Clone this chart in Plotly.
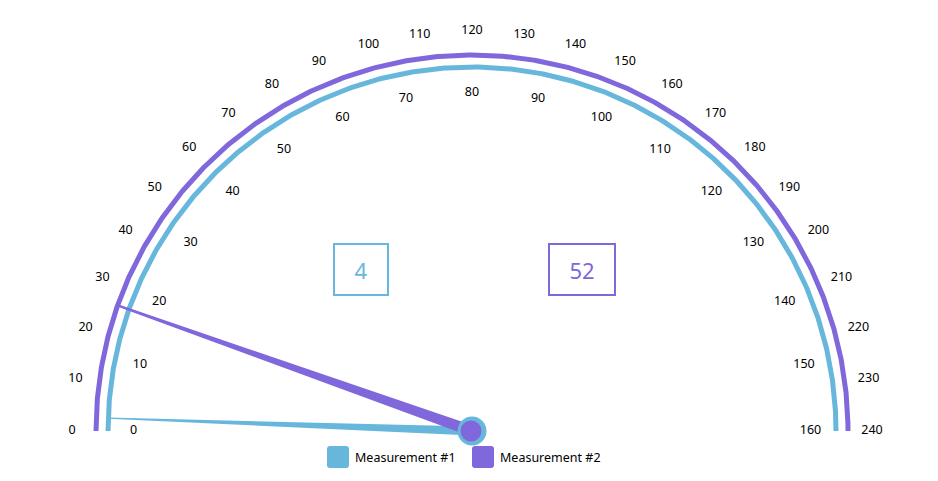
import numpy as np
import plotly.graph_objects as go

# gauge content
measurements = ["Measurement #1", "Measurement #2"]
readings = [4, 52]            # values shown in the boxes
hand_pos = [1.8, 26]          # where each hand sits on its own scale (as drawn)
axis_max = [160, 240]
inner_ticks = [0, 10, 20, 30, 40, 50, 60, 70, 80, 90, 100, 110, 120, 130, 140, 150, 160]
outer_ticks = [0, 10, 20, 30, 40, 50, 60, 70, 80, 90, 100, 110, 120, 130, 140, 150, 160,
               170, 180, 190, 200, 210, 220, 230, 240]
colors = ["#67b7dc", "#8067dc"]

W, H = 938, 481
CX, CY = 472, 50          # pivot of the hands
R_ARC = [364, 376]        # inner (blue) and outer (purple) band radius
R_LBL = [338.5, 400]      # tick label centres
FONT = "Noto Sans, Open Sans, sans-serif"


def polar(v, vmax, r):
    a = np.pi * (1 - np.asarray(v, dtype=float) / vmax)
    return CX + r * np.cos(a), CY + r * np.sin(a)


def rounded_rect(x0, y0, x1, y1, r):
    return (f"M{x0+r},{y0} L{x1-r},{y0} Q{x1},{y0} {x1},{y0+r} L{x1},{y1-r} "
            f"Q{x1},{y1} {x1-r},{y1} L{x0+r},{y1} Q{x0},{y1} {x0},{y1-r} "
            f"L{x0},{y0+r} Q{x0},{y0} {x0+r},{y0} Z")


fig = go.Figure()

# bands
for i in range(2):
    vals = np.linspace(0, axis_max[i], 600)
    x, y = polar(vals, axis_max[i], R_ARC[i])
    fig.add_trace(go.Scatter(x=x, y=y, mode="lines",
                             line=dict(color=colors[i], width=5),
                             hoverinfo="skip", showlegend=False))

# tick labels
for ticks, i in [(inner_ticks, 0), (outer_ticks, 1)]:
    x, y = polar(ticks, axis_max[i], R_LBL[i])
    fig.add_trace(go.Scatter(x=x, y=y, mode="text", text=[str(t) for t in ticks],
                             textfont=dict(family=FONT, size=12.5, color="#000"),
                             hoverinfo="skip", showlegend=False))

# hands (tapered)
hand_w = [(4.5, 0.6), (5.5, 1.2)]
for i in range(2):
    tx, ty = polar(hand_pos[i], axis_max[i], R_ARC[i])
    a = np.pi * (1 - hand_pos[i] / axis_max[i])
    nx, ny = -np.sin(a), np.cos(a)
    w0, w1 = hand_w[i]
    xs = [CX + nx * w0, tx + nx * w1, tx - nx * w1, CX - nx * w0, CX + nx * w0]
    ys = [CY + ny * w0, ty + ny * w1, ty - ny * w1, CY - ny * w0, CY + ny * w0]
    fig.add_trace(go.Scatter(x=xs, y=ys, mode="lines", fill="toself",
                             fillcolor=colors[i], line=dict(width=0, color=colors[i]),
                             hoverinfo="skip", showlegend=False))

# pins
fig.add_trace(go.Scatter(x=[CX], y=[CY], mode="markers",
                         marker=dict(size=29, color=colors[0]),
                         hoverinfo="skip", showlegend=False))
fig.add_trace(go.Scatter(x=[CX - 1], y=[CY], mode="markers",
                         marker=dict(size=21, color=colors[1]),
                         hoverinfo="skip", showlegend=False))

# value boxes
box_x = [361, 582]
box_w = [52, 64]
for i in range(2):
    fig.add_annotation(x=box_x[i], y=H - 269.5, text=str(readings[i]), showarrow=False,
                       font=dict(family=FONT, size=22, color=colors[i]),
                       bordercolor=colors[i], borderwidth=2, borderpad=0,
                       width=box_w[i], height=49)

# legend
leg_x = [327, 472]
for i in range(2):
    fig.add_shape(type="path", path=rounded_rect(leg_x[i], H - 468, leg_x[i] + 22, H - 446, 3),
                  fillcolor=colors[i], line=dict(width=0))
    fig.add_annotation(x=leg_x[i] + 26, y=H - 457, text=measurements[i], showarrow=False,
                       xanchor="left", font=dict(family=FONT, size=12.5, color="#000"))

fig.update_layout(
    width=W, height=H,
    margin=dict(l=0, r=0, t=0, b=0),
    paper_bgcolor="white", plot_bgcolor="white",
    xaxis=dict(range=[0, W], visible=False, fixedrange=True),
    yaxis=dict(range=[0, H], visible=False, fixedrange=True),
    showlegend=False,
)

# the page body has a default 8px margin; drop it so the gauge sits where intended
fig.write_html("out.html", config={"displayModeBar": False},
               post_script="document.body.style.margin='0';")
